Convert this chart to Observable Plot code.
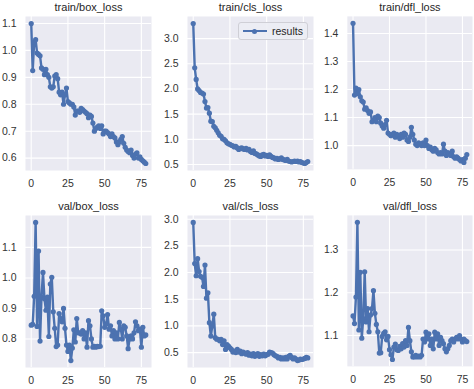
<!DOCTYPE html>
<html>
<head>
<meta charset="utf-8">
<script src="https://cdn.jsdelivr.net/npm/d3@7"></script>
<script src="https://cdn.jsdelivr.net/npm/@observablehq/plot@0.6"></script>
<style>
  html, body { margin: 0; padding: 0; background: #ffffff; }
  #wrap { position: relative; width: 474px; height: 389px; overflow: hidden; background: #ffffff; font-family: "Liberation Sans", Arial, sans-serif; }
  .panel { position: absolute; }
  #legend { position: absolute; left: 238px; top: 22px; width: 70px; height: 18px; box-sizing: border-box;
    border: 1px solid #cfcfd6; border-radius: 3px; background: rgba(236,237,244,0.9); }
  #legend .ln { position: absolute; left: 4px; top: 7px; width: 24px; height: 2.4px; background: #4c72b0; }
  #legend .pt { position: absolute; left: 13px; top: 5.5px; width: 5px; height: 5px; border-radius: 50%; background: #4c72b0; }
  #legend .tx { position: absolute; left: 33px; top: 1px; font-size: 10.5px; color: #262626; line-height: 14px; }
</style>
</head>
<body>
<div id="wrap"></div>
<script>
// ---- data ----
const titles = ["train/box_loss", "train/cls_loss", "train/dfl_loss", "val/box_loss", "val/cls_loss", "val/dfl_loss"];

const trainBox = [1.10,0.925,1.03,1.04,0.99,0.985,0.98,0.935,0.93,0.91,0.93,0.91,0.90,0.865,0.86,0.865,0.905,0.91,0.895,0.845,
  0.835,0.845,0.80,0.835,0.86,0.81,0.805,0.80,0.80,0.79,0.76,0.775,0.775,0.77,0.785,0.78,0.775,0.77,0.765,0.75,
  0.76,0.755,0.73,0.70,0.71,0.715,0.72,0.71,0.72,0.69,0.70,0.70,0.695,0.69,0.68,0.69,0.68,0.675,0.66,0.65,
  0.66,0.67,0.68,0.655,0.64,0.63,0.625,0.62,0.63,0.61,0.60,0.615,0.62,0.60,0.605,0.595,0.59,0.585,0.58];

const trainCls = [3.30,2.42,2.19,2.00,1.97,1.93,1.92,1.90,1.75,1.62,1.63,1.52,1.36,1.35,1.26,1.23,1.18,1.13,1.08,1.06,
  1.01,1.00,0.97,0.93,0.91,0.90,0.88,0.87,0.85,0.86,0.83,0.80,0.82,0.83,0.81,0.80,0.82,0.79,0.80,0.76,
  0.74,0.77,0.72,0.71,0.69,0.67,0.66,0.69,0.70,0.67,0.68,0.66,0.69,0.66,0.64,0.63,0.61,0.62,0.60,0.61,
  0.63,0.60,0.59,0.58,0.60,0.57,0.56,0.55,0.56,0.57,0.56,0.57,0.55,0.56,0.54,0.53,0.52,0.54,0.56];

const trainDfl = [1.436,1.18,1.205,1.185,1.20,1.174,1.16,1.155,1.13,1.135,1.125,1.115,1.12,1.085,1.09,1.10,1.085,1.105,1.10,1.08,
  1.07,1.062,1.075,1.09,1.045,1.04,1.035,1.04,1.045,1.03,1.04,1.035,1.025,1.04,1.03,1.045,1.04,1.02,1.015,1.03,
  1.065,1.04,1.02,1.005,1.00,1.01,1.005,1.00,1.01,1.00,1.02,1.00,0.99,0.995,0.985,0.98,0.99,0.985,0.975,0.97,
  0.975,0.97,1.005,0.98,0.965,0.975,0.97,0.965,0.98,0.96,0.955,0.96,0.955,0.95,0.945,0.95,0.94,0.955,0.968];

const valBox = [0.845,0.848,0.94,1.182,0.841,1.088,0.793,0.938,1.018,0.932,0.894,0.937,0.808,0.98,1.002,0.889,0.835,0.775,0.78,0.883,
  0.867,0.856,0.90,0.835,0.78,0.759,0.78,0.729,0.77,0.83,0.79,0.867,0.82,0.82,0.816,0.827,0.80,0.82,0.773,0.86,
  0.843,0.80,0.773,0.776,0.773,0.776,0.775,0.776,0.892,0.876,0.838,0.849,0.88,0.832,0.843,0.81,0.827,0.80,0.82,0.80,
  0.854,0.832,0.80,0.843,0.838,0.81,0.768,0.80,0.81,0.80,0.82,0.856,0.843,0.827,0.832,0.773,0.838,0.81,0.813];

const valCls = [2.94,2.17,1.94,2.26,2.02,1.93,1.91,1.74,2.14,1.52,1.62,1.06,0.81,1.00,1.22,0.78,0.75,0.75,0.72,0.75,
  0.65,0.72,0.56,0.65,0.62,0.59,0.56,0.51,0.53,0.50,0.56,0.51,0.53,0.48,0.51,0.49,0.47,0.50,0.45,0.47,
  0.44,0.48,0.43,0.46,0.48,0.43,0.46,0.44,0.47,0.44,0.46,0.47,0.51,0.50,0.49,0.46,0.44,0.43,0.40,0.41,
  0.38,0.40,0.38,0.41,0.38,0.43,0.45,0.41,0.38,0.40,0.38,0.35,0.36,0.38,0.37,0.38,0.39,0.41,0.40];

const valDfl = [1.146,1.128,1.19,1.365,1.113,1.248,1.094,1.14,1.249,1.132,1.163,1.109,1.148,1.163,1.205,1.152,1.126,1.109,1.059,1.06,
  1.098,1.105,1.109,1.09,1.098,1.067,1.055,1.044,1.073,1.08,1.067,1.065,1.075,1.069,1.081,1.073,1.088,1.077,1.119,1.088,
  1.062,1.05,1.05,1.054,1.05,1.052,1.05,1.054,1.092,1.085,1.108,1.092,1.104,1.077,1.092,1.069,1.108,1.092,1.104,1.077,
  1.096,1.088,1.081,1.069,1.062,1.069,1.077,1.088,1.092,1.085,1.092,1.096,1.092,1.10,1.092,1.085,1.092,1.088,1.086];

const series = [trainBox, trainCls, trainDfl, valBox, valCls, valDfl];

const xTicks = [0, 25, 50, 75];
const yTicks = [
  [0.6, 0.7, 0.8, 0.9, 1.0, 1.1],
  [0.5, 1.0, 1.5, 2.0, 2.5, 3.0],
  [1.0, 1.1, 1.2, 1.3, 1.4],
  [0.8, 0.9, 1.0, 1.1],
  [0.5, 1.0, 1.5, 2.0, 2.5, 3.0],
  [1.1, 1.2, 1.3]
];
const legendLabel = "results";

// ---- layout ----
const colLeft = [25, 187, 347];
const rowTop = [16, 215];
const plotW = 126;
const rowH = [154, 152];
const mL = 25, mR = 2, mT = 18, mB = 22;
const blue = "#4c72b0";
const fmtY = d3.format(".1f");

const wrap = document.getElementById("wrap");

series.forEach((vals, k) => {
  const col = k % 3, row = Math.floor(k / 3);
  const data = vals.map((v, i) => ({epoch: i, value: v}));
  const xr = d3.extent(data, d => d.epoch);
  const yr = d3.extent(data, d => d.value);
  const xp = (xr[1] - xr[0]) * 0.05, yp = (yr[1] - yr[0]) * 0.05;

  const chart = Plot.plot({
    width: mL + plotW + mR,
    height: mT + rowH[row] + mB,
    marginLeft: mL, marginRight: mR, marginTop: mT, marginBottom: mB,
    style: {fontFamily: '"Liberation Sans", Arial, sans-serif', fontSize: "10.5px", color: "#333333", background: "transparent", overflow: "visible"},
    x: {domain: [xr[0] - xp, xr[1] + xp], axis: null},
    y: {domain: [yr[0] - yp, yr[1] + yp], axis: null},
    marks: [
      Plot.frame({fill: "#eaeaf2", stroke: null}),
      Plot.ruleX(xTicks, {x: d => d, stroke: "#ffffff", strokeWidth: 1.1}),
      Plot.ruleY(yTicks[k], {y: d => d, stroke: "#ffffff", strokeWidth: 1.1}),
      Plot.text(xTicks, {x: d => d, text: d => String(d), frameAnchor: "bottom", lineAnchor: "top", dy: 9, fill: "#333333", fontSize: 10.5}),
      Plot.text(yTicks[k], {y: d => d, text: d => fmtY(d), frameAnchor: "left", textAnchor: "end", dx: -9, fill: "#333333", fontSize: 10.5}),
      Plot.line(data, {x: "epoch", y: "value", stroke: blue, strokeWidth: 2.4}),
      Plot.dot(data, {x: "epoch", y: "value", fill: blue, r: 2.6}),
      Plot.text([titles[k]], {frameAnchor: "top", dy: -9, lineAnchor: "middle", fontSize: 11, fill: "#262626"})
    ]
  });
  const div = document.createElement("div");
  div.className = "panel";
  div.style.left = (colLeft[col] - mL) + "px";
  div.style.top = (rowTop[row] - mT) + "px";
  div.appendChild(chart);
  wrap.appendChild(div);
});

// legend (in train/cls_loss panel)
const lg = document.createElement("div");
lg.id = "legend";
lg.innerHTML = '<div class="ln"></div><div class="pt"></div><div class="tx"></div>';
lg.querySelector(".tx").textContent = legendLabel;
wrap.appendChild(lg);
</script>
</body>
</html>
